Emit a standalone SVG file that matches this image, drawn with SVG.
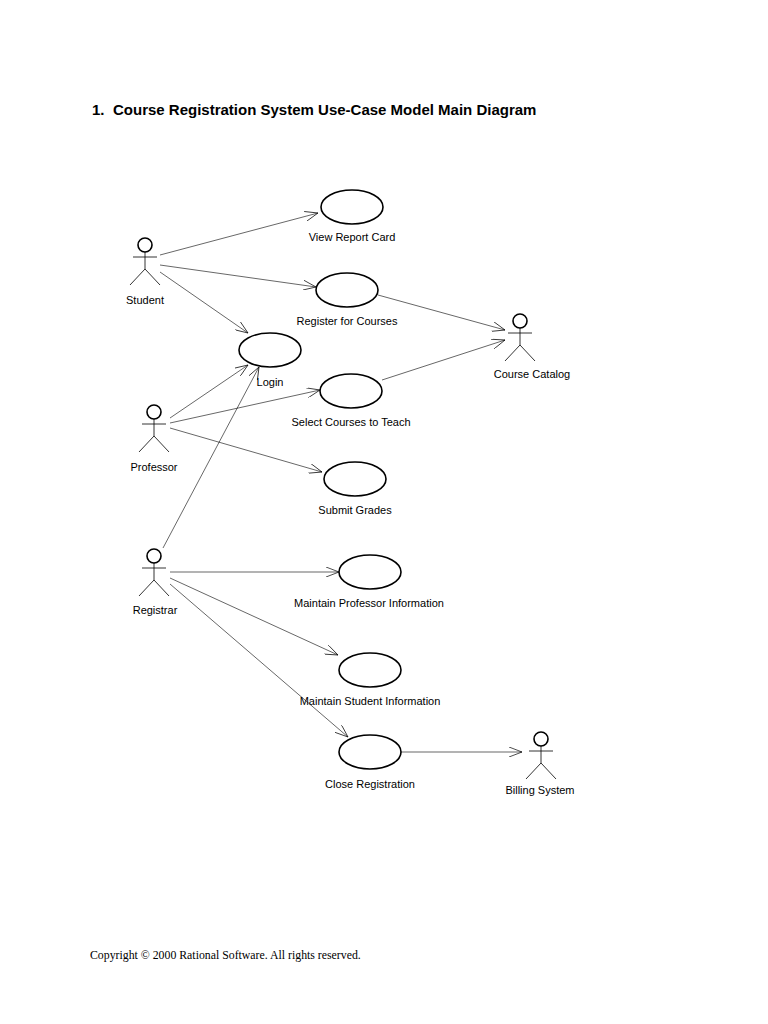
<svg xmlns="http://www.w3.org/2000/svg" width="768" height="1024" viewBox="0 0 768 1024">
<style>
text{font-family:"Liberation Sans",Arial,sans-serif;font-size:11px;fill:#000;text-anchor:middle}
.uc{fill:#fff;stroke:#000;stroke-width:1.6}
.act{fill:none;stroke:#000;stroke-width:0.8}
.head{fill:#fff;stroke:#000;stroke-width:1.6}
.c line{stroke:#000;stroke-width:0.6;marker-end:url(#a)}
</style>
<defs>
<marker id="a" markerWidth="14" markerHeight="10" refX="13" refY="5" orient="auto" markerUnits="userSpaceOnUse">
<path d="M0,0 L13,5 L0,10" fill="none" stroke="#000" stroke-width="0.7"/>
</marker>
<g id="actor"><circle class="head" cx="0" cy="0" r="7"/><path class="act" d="M-12,12 H12 M0,7 V24 L-15,40 M0,24 L15,40"/></g>
</defs>
<rect width="768" height="1024" fill="#fff"/>
<text x="92" y="115" style="font-size:15px;font-weight:bold;text-anchor:start">1.</text>
<text x="113" y="115" style="font-size:15px;font-weight:bold;text-anchor:start">Course Registration System Use-Case Model Main Diagram</text>
<g class="c">
<line x1="160" y1="255" x2="318" y2="213"/>
<line x1="160" y1="265" x2="316" y2="287"/>
<line x1="160" y1="272" x2="248" y2="333"/>
<line x1="378" y1="295" x2="505" y2="330"/>
<line x1="382" y1="380" x2="505" y2="340"/>
<line x1="170" y1="418" x2="248" y2="365"/>
<line x1="170" y1="423" x2="320" y2="390"/>
<line x1="170" y1="428" x2="322" y2="472"/>
<line x1="163" y1="548" x2="259" y2="367"/>
<line x1="170" y1="572" x2="339" y2="572"/>
<line x1="170" y1="578" x2="338" y2="655"/>
<line x1="170" y1="584" x2="348" y2="737"/>
<line x1="401" y1="752" x2="522" y2="752"/>
</g>
<g id="student"><use href="#actor" x="145" y="245"/><text x="145" y="304">Student</text></g>
<g id="professor"><use href="#actor" x="154" y="412"/><text x="154" y="471">Professor</text></g>
<g id="registrar"><use href="#actor" x="154" y="556"/><text x="155" y="614">Registrar</text></g>
<g id="catalog"><use href="#actor" x="520" y="321"/><text x="532" y="378">Course Catalog</text></g>
<g id="billing"><use href="#actor" x="541" y="739"/><text x="540" y="794">Billing System</text></g>
<g id="uc1"><ellipse class="uc" cx="352" cy="207" rx="31" ry="17"/><text x="352" y="241">View Report Card</text></g>
<g id="uc2"><ellipse class="uc" cx="347" cy="290" rx="31" ry="17"/><text x="347" y="325">Register for Courses</text></g>
<g id="uc3"><ellipse class="uc" cx="270" cy="350" rx="31" ry="17"/><text x="270" y="386">Login</text></g>
<g id="uc4"><ellipse class="uc" cx="351" cy="391" rx="31" ry="17"/><text x="351" y="426">Select Courses to Teach</text></g>
<g id="uc5"><ellipse class="uc" cx="355" cy="479" rx="31" ry="17"/><text x="355" y="514">Submit Grades</text></g>
<g id="uc6"><ellipse class="uc" cx="370" cy="572" rx="31" ry="17"/><text x="369" y="607">Maintain Professor Information</text></g>
<g id="uc7"><ellipse class="uc" cx="370" cy="670" rx="31" ry="17"/><text x="370" y="705">Maintain Student Information</text></g>
<g id="uc8"><ellipse class="uc" cx="370" cy="752" rx="31" ry="17"/><text x="370" y="788">Close Registration</text></g>
<text x="90" y="959" style="font-family:'Liberation Serif',serif;font-size:11.8px;text-anchor:start">Copyright © 2000 Rational Software. All rights reserved.</text>
</svg>
